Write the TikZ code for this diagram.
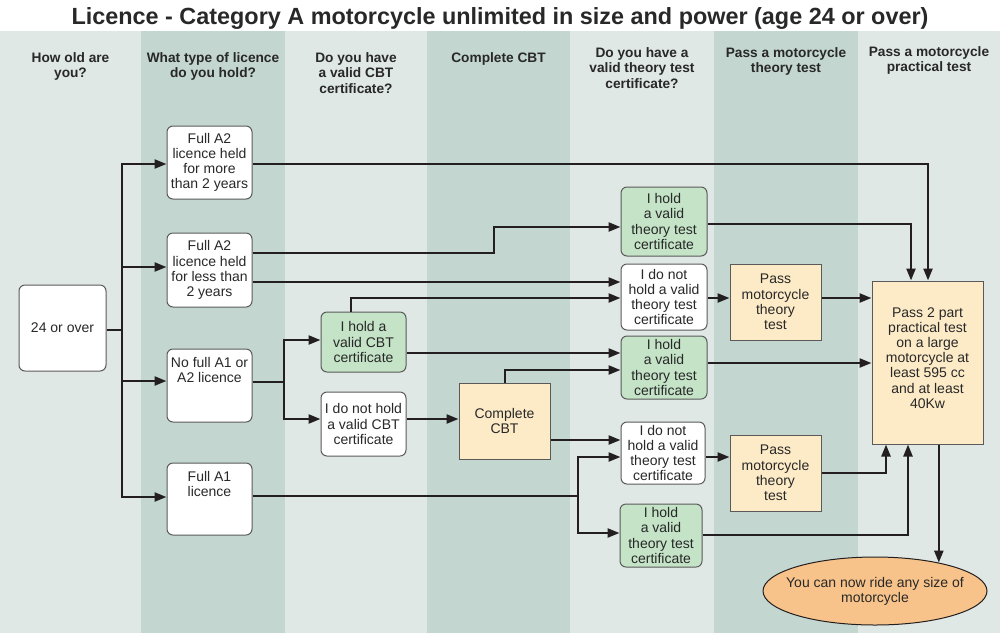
\documentclass[tikz,border=0pt]{standalone}
\usepackage{fontspec}
\setmainfont{Liberation Sans}
\usetikzlibrary{arrows.meta,shapes.geometric}
\definecolor{colLight}{RGB}{223,232,228}
\definecolor{colDark}{RGB}{195,214,207}
\definecolor{boxgreen}{RGB}{196,227,199}
\definecolor{boxyellow}{RGB}{253,235,199}
\definecolor{ellorange}{RGB}{248,195,138}
\definecolor{bordergray}{RGB}{90,90,90}
\definecolor{linecol}{RGB}{35,31,32}
\definecolor{textcol}{RGB}{40,40,40}
\begin{document}
\begin{tikzpicture}[x=1pt,y=-1pt,
  box/.style={draw=bordergray, line width=1pt, fill=white, rounded corners=6pt, align=center, inner sep=0pt, text=textcol, font=\fontsize{14}{15.2}\selectfont},
  gbox/.style={box, fill=boxgreen},
  ybox/.style={box, fill=boxyellow, sharp corners},
  hdr/.style={anchor=north, align=center, font=\bfseries\fontsize{13.7}{15.5}\selectfont, text=textcol, inner sep=0pt},
  ln/.style={draw=linecol, line width=2.3pt},
  arr/.style={ln, -{Triangle[length=12pt,width=9pt]}},
]
\useasboundingbox (0,0) rectangle (1000,633);
% background columns
\fill[colLight] (0,31) rectangle (1000,633);
\fill[colDark] (141,31) rectangle (285,633);
\fill[colDark] (427,31) rectangle (570,633);
\fill[colDark] (714,31) rectangle (858,633);

% title
\node[anchor=base, inner sep=0pt, text=textcol, font=\bfseries\fontsize{23.4}{26}\selectfont] (title) at (500,24) {Licence - Category A motorcycle unlimited in size and power (age 24 or over)};

% headers
\node[hdr] (h1) at (70.5,52) {How old are\\you?};
\node[hdr] (h2) at (213,52) {What type of licence\\do you hold?};
\node[hdr] (h3) at (356,52) {Do you have\\a valid CBT\\certificate?};
\node[hdr] (h4) at (498.5,52) {Complete CBT};
\node[hdr] (h5) at (642,47) {Do you have a\\valid theory test\\certificate?};
\node[hdr] (h6) at (786,47) {Pass a motorcycle\\theory test};
\node[hdr] (h7) at (929,46) {Pass a motorcycle\\practical test};

% nodes
\node[box, minimum width=87, minimum height=86] (age) at (62.5,328) {24 or over};
\node[box, minimum width=85, minimum height=73] (a2more) at (209.5,162.5) {Full A2\\licence held\\for more\\than 2 years};
\node[box, minimum width=85, minimum height=74] (a2less) at (209.5,270) {Full A2\\licence held\\for less than\\2 years};
\node[box, minimum width=85, minimum height=73] (noa1) at (209.5,385.5) {No full A1 or\\A2 licence\\~\\~};
\node[box, minimum width=85, minimum height=72] (a1) at (209.5,499) {Full A1\\licence\\~\\~};
\node[gbox, minimum width=85, minimum height=60] (cbtyes) at (363.5,342) {I hold a\\valid CBT\\certificate};
\node[box, minimum width=85, minimum height=64] (cbtno) at (363.5,424) {I do not hold\\a valid CBT\\certificate};
\node[ybox, minimum width=91, minimum height=76] (cbt) at (504.5,421) {Complete\\CBT};
\node[gbox, minimum width=86, minimum height=69] (ty1) at (664,221.5) {I hold\\a valid\\theory test\\certificate};
\node[box, minimum width=86, minimum height=66] (tn1) at (664,297) {I do not\\hold a valid\\theory test\\certificate};
\node[gbox, minimum width=86, minimum height=63] (ty2) at (664,367.5) {I hold\\a valid\\theory test\\certificate};
\node[box, minimum width=84, minimum height=62] (tn2) at (663,453) {I do not\\hold a valid\\theory test\\certificate};
\node[gbox, minimum width=82, minimum height=63] (ty3) at (661,535.5) {I hold\\a valid\\theory test\\certificate};
\node[ybox, minimum width=91, minimum height=76] (pt1) at (775.5,302) {Pass\\motorcycle\\theory\\test};
\node[ybox, minimum width=91, minimum height=76] (pt2) at (775.5,473) {Pass\\motorcycle\\theory\\test};
\node[ybox, minimum width=111, minimum height=163] (prac) at (927.5,362.5) {Pass 2 part\\practical test\\on a large\\motorcycle at\\least 595 cc\\and at least\\40Kw\\[-6pt]~};
\node[box, ellipse, fill=ellorange, draw=linecol, inner xsep=-12pt, inner ysep=0pt, minimum width=224, minimum height=68] (ell) at (875,591) {You can now ride any size of\\motorcycle};

% connectors
\coordinate (tr) at (122,330);
\draw[ln] (age.east |- tr) -- (tr);
\draw[arr] (tr) |- (a2more.west |- 0,164);
\draw[arr] (tr) |- (a2less.west |- 0,267);
\draw[arr] (tr) |- (noa1.west |- 0,381);
\draw[arr] (tr) |- (a1.west |- 0,497);

\draw[arr] (a2more.east |- 0,164) -| (prac.north -| 928,0);
\draw[arr] (a2less.east |- 0,253) -- (494,253) -- (494,227) -- (ty1.west |- 0,227);
\draw[arr] (a2less.east |- 0,282) -- (tn1.west |- 0,282);

\coordinate (nj) at (284,382);
\draw[ln] (noa1.east |- nj) -- (nj);
\draw[arr] (nj) |- (cbtyes.west |- 0,340);
\draw[arr] (nj) |- (cbtno.west |- 0,419);

\draw[arr] (cbtyes.north -| 351,0) |- (tn1.west |- 0,298);
\draw[arr] (cbtyes.east |- 0,353) -- (ty2.west |- 0,353);
\draw[arr] (cbtno.east |- 0,419) -- (cbt.west |- 0,419);
\draw[arr] (cbt.north -| 505,0) |- (ty2.west |- 0,370);
\draw[arr] (cbt.east |- 0,440) -- (tn2.west |- 0,440);

\coordinate (aj) at (578,496);
\draw[ln] (a1.east |- aj) -- (aj);
\draw[arr] (aj) |- (tn2.west |- 0,457);
\draw[arr] (aj) |- (ty3.west |- 0,533);

\draw[arr] (ty1.east |- 0,224) -| (prac.north -| 911,0);
\draw[arr] (tn1.east |- 0,298) -- (pt1.west |- 0,298);
\draw[arr] (pt1.east |- 0,298) -- (prac.west |- 0,298);
\draw[arr] (ty2.east |- 0,363) -- (prac.west |- 0,363);
\draw[arr] (tn2.east |- 0,457) -- (pt2.west |- 0,457);
\draw[arr] (pt2.east |- 0,473) -| (prac.south -| 886,0);
\draw[arr] (ty3.east |- 0,535) -| (prac.south -| 908,0);
\draw[arr] (prac.south -| ell.24) -- (ell.24);
\end{tikzpicture}
\end{document}
